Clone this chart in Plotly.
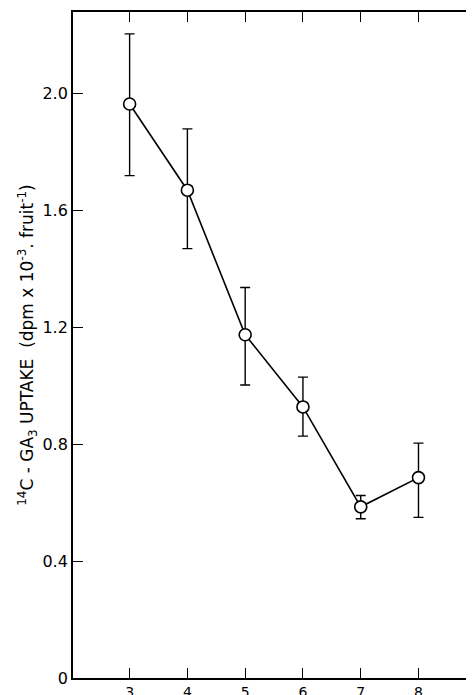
import plotly.graph_objects as go

x = [3, 4, 5, 6, 7, 8]
y = [1.965, 1.67, 1.175, 0.928, 0.586, 0.686]
err_hi = [2.205, 1.88, 1.337, 1.03, 0.625, 0.804]
err_lo = [1.72, 1.47, 1.003, 0.828, 0.545, 0.55]
yticks = [0, 0.4, 0.8, 1.2, 1.6, 2.0]
ytext = ["0", "0.4", "0.8", "1.2", "1.6", "2.0"]

fig = go.Figure(go.Scatter(
    x=x, y=y, mode="lines+markers",
    line=dict(color="black", width=1.6),
    marker=dict(size=12, color="white", line=dict(color="black", width=1.6)),
    error_y=dict(type="data", symmetric=False,
                 array=[h - v for h, v in zip(err_hi, y)],
                 arrayminus=[v - l for l, v in zip(err_lo, y)],
                 color="black", thickness=1.4, width=5),
))
font = dict(family="DejaVu Sans", size=14, color="black")
fig.update_layout(
    width=474, height=695, margin=dict(l=65, r=2, t=3, b=25),
    plot_bgcolor="white", paper_bgcolor="white", showlegend=False, font=font,
    xaxis=dict(range=[2.02, 9.03], tickvals=x, showline=True, linecolor="black",
               linewidth=1.8, mirror="ticks", ticks="inside", ticklen=10,
               tickcolor="black", showgrid=False, zeroline=False,
               tickfont=dict(size=14)),
    yaxis=dict(range=[0, 2.28], tickvals=yticks, ticktext=ytext, showline=True,
               linecolor="black", linewidth=1.8, mirror="ticks", ticks="inside",
               ticklen=10, tickcolor="black", showgrid=False, zeroline=False,
               tickfont=dict(size=16),
               title=dict(text="<sup>14</sup>C - GA<sub>3</sub> UPTAKE  (dpm x 10<sup>-3</sup>. fruit<sup>-1</sup>)",
                          standoff=4, font=dict(size=17))),
)
fig.write_html("out.html")
